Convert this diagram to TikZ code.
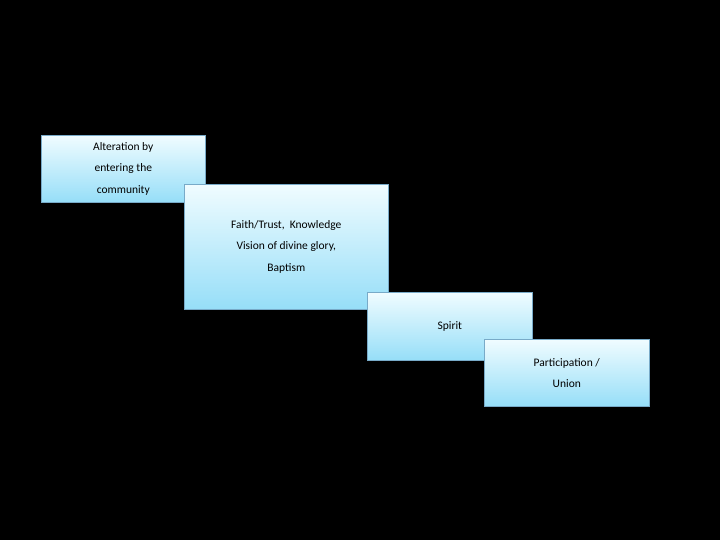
\documentclass[tikz,border=0pt]{standalone}
\usepackage{fontspec}
\setmainfont{Carlito}
\definecolor{boxtop}{RGB}{240,252,255}
\definecolor{boxbottom}{RGB}{150,222,248}
\definecolor{boxline}{RGB}{120,170,200}
\tikzset{
  stagebox/.style={draw=boxline, line width=0.6pt, top color=boxtop,
    bottom color=boxbottom, anchor=north west, align=center, inner sep=2pt,
    font=\fontsize{11.5}{21.5}\selectfont}
}
\begin{document}
\begin{tikzpicture}[x=1pt, y=-1pt]
\fill[black] (0,0) rectangle (720,540);
\useasboundingbox (0,0) rectangle (720,540);

\node[stagebox, minimum width=164pt, minimum height=67pt] (alter) at (41,135)
  {Alteration by\\entering the\\community};
\node[stagebox, minimum width=204pt, minimum height=125pt] (faith) at (184,184)
  {Faith/Trust,\ \ Knowledge\\Vision of divine glory,\\Baptism};
\node[stagebox, minimum width=165pt, minimum height=68pt] (spirit) at (367,292)
  {Spirit};
\node[stagebox, minimum width=165pt, minimum height=67pt] (union) at (484,339)
  {Participation /\\Union};
\end{tikzpicture}
\end{document}
